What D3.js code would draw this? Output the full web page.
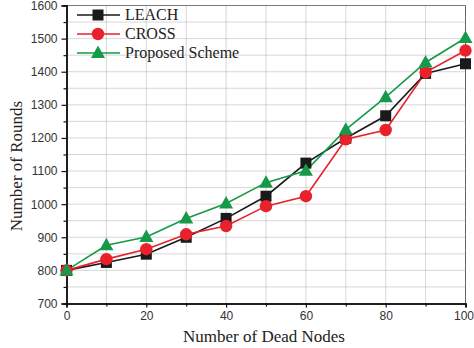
<!DOCTYPE html>
<html><head><meta charset="utf-8">
<script src="https://cdn.jsdelivr.net/npm/d3@7"></script>
<style>body{margin:0;background:#fff}svg{display:block}</style>
</head><body>
<script>
const deadNodes = [0,10,20,30,40,50,60,70,80,90,100];
const leach = [800,824,849,900,957,1024,1124,1199,1267,1395,1424];
const cross = [800,834,864,909,934,994,1024,1196,1224,1398,1464];
const proposed = [800,876,901,957,1002,1065,1101,1225,1323,1428,1502];
const seriesNames = ["LEACH","CROSS","Proposed Scheme"];
const seriesColors = ["#1a1a1a","#e8212b","#17994a"];
const seriesShapes = ["square","circle","triangle"];
const xTicks = [0,20,40,60,80,100];
const yTicks = [700,800,900,1000,1100,1200,1300,1400,1500,1600];

const W=474,H=348;
const svg=d3.select("body").append("svg").attr("width",W).attr("height",H);
const x=d3.scaleLinear().domain([0,100]).range([66.5,465.5]);
const y=d3.scaleLinear().domain([700,1600]).range([303.5,5.5]);

// grid
const g=svg.append("g");
g.selectAll(".gx").data(d3.range(10,100,10)).join("line")
 .attr("x1",d=>x(d)).attr("x2",d=>x(d)).attr("y1",y(700)).attr("y2",y(1600))
 .attr("stroke","#9a9a9a").attr("stroke-width",0.8).attr("stroke-dasharray","1,1");
g.selectAll(".gy").data(d3.range(750,1600,50)).join("line")
 .attr("x1",x(0)).attr("x2",x(100)).attr("y1",d=>y(d)).attr("y2",d=>y(d))
 .attr("stroke","#9a9a9a").attr("stroke-width",0.8).attr("stroke-dasharray","1,1");

// frame top/right
svg.append("line").attr("x1",x(0)).attr("x2",x(100)).attr("y1",y(1600)).attr("y2",y(1600)).attr("stroke","#777");
svg.append("line").attr("x1",x(100)).attr("x2",x(100)).attr("y1",y(1600)).attr("y2",y(700)).attr("stroke","#666");

// axes
const xa=svg.append("g").attr("transform",`translate(0,${y(700)})`)
 .call(d3.axisBottom(x).tickValues(xTicks).tickSize(4).tickPadding(4).tickFormat(d3.format("d")));
const xm=svg.append("g").attr("transform",`translate(0,${y(700)})`)
 .call(d3.axisBottom(x).tickValues(d3.range(10,100,20)).tickSize(3).tickFormat(""));
const ya=svg.append("g").attr("transform",`translate(${x(0)},0)`)
 .call(d3.axisLeft(y).tickValues(yTicks).tickSize(5).tickPadding(4).tickFormat(d3.format("d")));
const ym=svg.append("g").attr("transform",`translate(${x(0)},0)`)
 .call(d3.axisLeft(y).tickValues(d3.range(750,1600,100)).tickSize(3).tickFormat(""));
[xa,xm,ya,ym].forEach(a=>{
 a.select(".domain").attr("stroke","#111").attr("stroke-width",1.5);
 a.selectAll(".tick line").attr("stroke","#111").attr("stroke-width",1.2);
 a.selectAll("text").attr("font-family","Liberation Sans, Arial, sans-serif").attr("font-size",12).attr("fill","#333");
});
// keep the last x label inside the window
xa.selectAll(".tick text").filter(d=>d===100).attr("text-anchor","end").attr("dx",8);

const data=[leach,cross,proposed];
function marker(sel,shape,color){
 if(shape==="square") sel.append("rect").attr("x",-5.5).attr("y",-5.5).attr("width",11).attr("height",11).attr("fill",color);
 else if(shape==="circle") sel.append("circle").attr("r",6.2).attr("fill",color);
 else sel.append("path").attr("d","M0,-7.5L7,5L-7,5Z").attr("fill",color);
}
const line=d3.line().x((d,i)=>x(deadNodes[i])).y(d=>y(d));
data.forEach((vals,k)=>{
 svg.append("path").attr("d",line(vals)).attr("fill","none").attr("stroke",seriesColors[k]).attr("stroke-width",1.6);
});
data.forEach((vals,k)=>{
 svg.append("g").selectAll("g").data(vals).join("g")
  .attr("transform",(d,i)=>`translate(${x(deadNodes[i])},${y(d)})`)
  .each(function(){marker(d3.select(this),seriesShapes[k],seriesColors[k]);});
});

// legend
const lg=svg.append("g");
seriesNames.forEach((n,k)=>{
 const cy=15+k*19;
 lg.append("line").attr("x1",77).attr("x2",120).attr("y1",cy).attr("y2",cy).attr("stroke",seriesColors[k]).attr("stroke-width",1.6);
 marker(lg.append("g").attr("transform",`translate(98,${cy})`),seriesShapes[k],seriesColors[k]);
 lg.append("text").attr("x",125).attr("y",cy+5).text(n)
  .attr("font-family","Liberation Serif, Times New Roman, serif").attr("font-size",16).attr("fill","#222");
});

// axis titles
svg.append("text").attr("transform","translate(22,166) rotate(-90)").attr("text-anchor","middle")
 .attr("font-family","Liberation Serif, Times New Roman, serif").attr("font-size",17).attr("fill","#222").text("Number of Rounds");
svg.append("text").attr("x",264).attr("y",342).attr("text-anchor","middle")
 .attr("font-family","Liberation Serif, Times New Roman, serif").attr("font-size",17).attr("fill","#222").text("Number of Dead Nodes");
</script>
</body></html>
